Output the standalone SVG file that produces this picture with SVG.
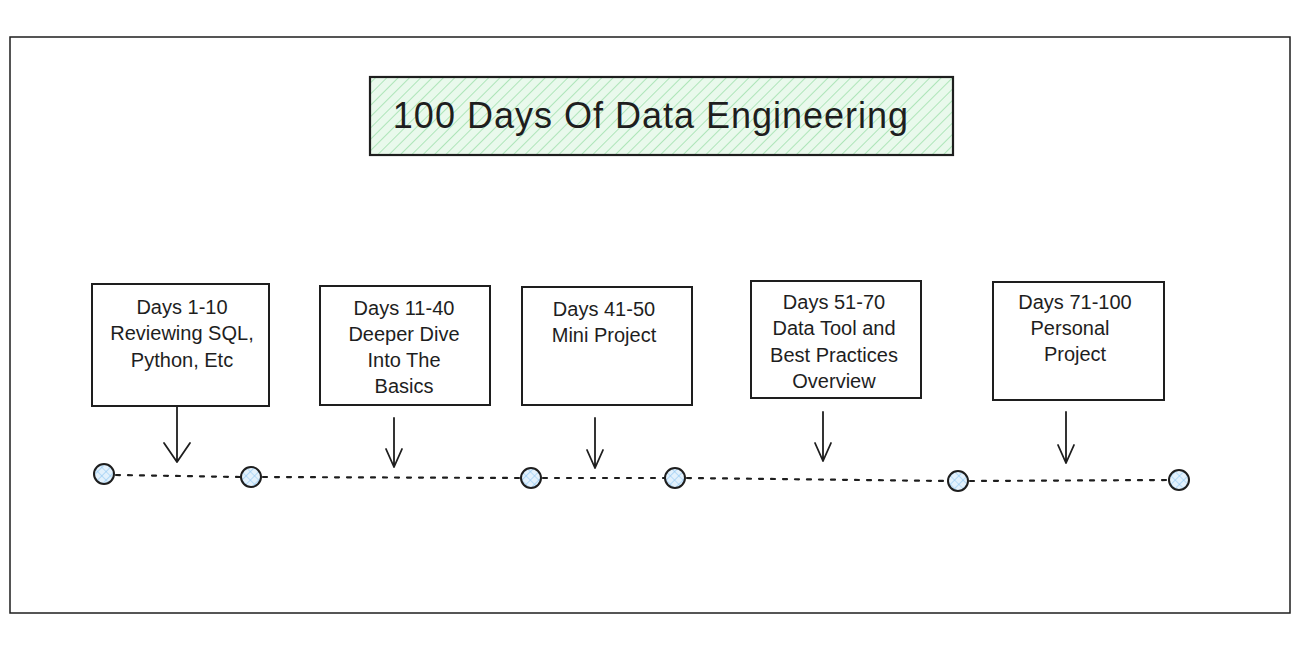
<svg xmlns="http://www.w3.org/2000/svg" width="1300" height="650" viewBox="0 0 1300 650">
<style>
.box{fill:#fff;stroke:#1e1e1e;stroke-width:2}
.t{font-family:"Liberation Sans",Arial,sans-serif;font-size:20px;fill:#1e1e1e;text-anchor:middle}
.title{font-family:"Liberation Sans",Arial,sans-serif;font-size:36px;letter-spacing:1px;fill:#1e1e1e;text-anchor:middle}
.arr{stroke:#1e1e1e;stroke-width:1.8;fill:none;stroke-linecap:round;stroke-linejoin:round}
.dot{stroke:#1e1e1e;stroke-width:2.2;fill:none;stroke-dasharray:4 8;stroke-linecap:round}
.node{fill:url(#cross);stroke:#1e1e1e;stroke-width:2}
</style>
<defs>
<pattern id="hatch" width="8" height="8" patternUnits="userSpaceOnUse" patternTransform="rotate(45)">
<rect width="8" height="8" fill="#e9f9ec"/>
<line x1="0" y1="0" x2="0" y2="8" stroke="#9fe0ac" stroke-width="1.6"/>
</pattern>
<pattern id="cross" width="6" height="6" patternUnits="userSpaceOnUse" patternTransform="rotate(45)">
<rect width="6" height="6" fill="#e3f1fc"/>
<path d="M0 0V6M0 0H6" stroke="#8cc6f2" stroke-width="1.2"/>
</pattern>
</defs>
<rect width="1300" height="650" fill="#fff"/>
<rect x="10" y="37" width="1280" height="576" fill="none" stroke="#1e1e1e" stroke-width="1.5"/>

<g id="title">
<rect x="370" y="77" width="583" height="78" fill="url(#hatch)" stroke="#1e1e1e" stroke-width="2.2"/>
<text class="title" x="651" y="128">100 Days Of Data Engineering</text>
</g>

<g id="connectors">
<path class="dot" d="M116 475 L241 477 M263 477 L521 478 M543 478 L665 478 M687 478 L948 481 M970 481 L1169 480"/>
<path class="arr" d="M177 399 V462 M164 443 L177 462 L190 443"/>
<path class="arr" d="M394 418 V467 M386 449 L394 467 L402 449"/>
<path class="arr" d="M595 418 V468 M587 450 L595 468 L603 450"/>
<path class="arr" d="M823 412 V461 M815 443 L823 461 L831 443"/>
<path class="arr" d="M1066 412 V463 M1058 445 L1066 463 L1074 445"/>
</g>

<g id="n0"><circle class="node" cx="104" cy="474" r="10"/></g>
<g id="n1"><circle class="node" cx="251" cy="477" r="10"/></g>
<g id="n2"><circle class="node" cx="531" cy="478" r="10"/></g>
<g id="n3"><circle class="node" cx="675" cy="478" r="10"/></g>
<g id="n4"><circle class="node" cx="958" cy="481" r="10"/></g>
<g id="n5"><circle class="node" cx="1179" cy="480" r="10"/></g>

<g id="box1">
<rect class="box" x="92" y="284" width="177" height="122"/>
<text class="t" x="182" y="314">Days 1-10</text>
<text class="t" x="182" y="340">Reviewing SQL,</text>
<text class="t" x="182" y="367">Python, Etc</text>
</g>
<g id="box2">
<rect class="box" x="320" y="286" width="170" height="119"/>
<text class="t" x="404" y="315">Days 11-40</text>
<text class="t" x="404" y="341">Deeper Dive</text>
<text class="t" x="404" y="367">Into The</text>
<text class="t" x="404" y="393">Basics</text>
</g>
<g id="box3">
<rect class="box" x="522" y="287" width="170" height="118"/>
<text class="t" x="604" y="316">Days 41-50</text>
<text class="t" x="604" y="342">Mini Project</text>
</g>
<g id="box4">
<rect class="box" x="751" y="281" width="170" height="117"/>
<text class="t" x="834" y="309">Days 51-70</text>
<text class="t" x="834" y="335">Data Tool and</text>
<text class="t" x="834" y="362">Best Practices</text>
<text class="t" x="834" y="388">Overview</text>
</g>
<g id="box5">
<rect class="box" x="993" y="282" width="171" height="118"/>
<text class="t" x="1075" y="309">Days 71-100</text>
<text class="t" x="1070" y="335">Personal</text>
<text class="t" x="1075" y="361">Project</text>
</g>
</svg>
